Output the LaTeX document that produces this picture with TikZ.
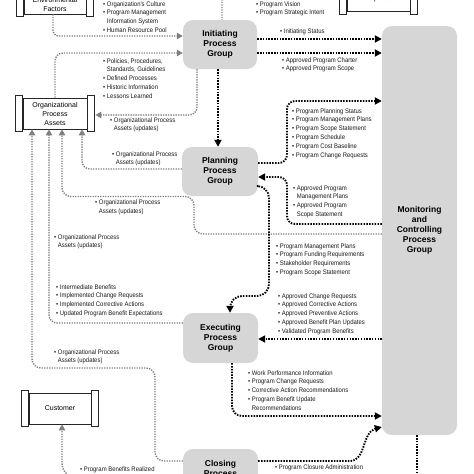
\documentclass[tikz,border=0pt]{standalone}
\usepackage{fontspec}
\setmainfont{Liberation Sans}
\newfontfamily\lblfont{Liberation Sans}[FakeStretch=0.9]
\usetikzlibrary{arrows.meta,calc}
\newcommand\mybul{\textbullet\ }
\newcommand\myind{\hphantom{\textbullet\ }}
\tikzset{
 grp/.style={fill=black!16, rounded corners=10pt, inner sep=0pt, align=center, font=\fontsize{8.5}{10}\selectfont\bfseries},
 scr/.style={draw=black!85, line width=0.8pt, fill=white, inner sep=0pt, align=center, font=\fontsize{7}{9}\selectfont},
 scrbar/.style={draw=black!85, line width=0.8pt, fill=white},
 lbl/.style={anchor=north west, inner sep=0pt, align=left, font=\lblfont\fontsize{6.6}{8.8}\selectfont, text=black!90},
 bline/.style={line width=1.9pt, dash pattern=on 1.5pt off 1.3pt, black},
 gline/.style={line width=1.4pt, dash pattern=on 1.3pt off 1.2pt, black!50},
 barr/.style={-{Triangle[length=7pt,width=7pt]}},
 garr/.style={-{Triangle[length=6pt,width=6.5pt]}},
}
\newcommand\scrollbars[1]{%
 \draw[scrbar] ($(#1.north west)+(-7,-2)$) rectangle ($(#1.south west)+(0,2)$);
 \draw[scrbar] ($(#1.north east)+(0,-2)$) rectangle ($(#1.south east)+(7,2)$);}
\begin{document}
\begin{tikzpicture}[x=1pt,y=-1pt]
\useasboundingbox (0,0) rectangle (474,474);
\clip (0,0) rectangle (474,474);
\fill[white] (0,0) rectangle (474,474);

% process groups
\node[grp, minimum width=74pt, minimum height=49pt] (init) at (220,44.5) {Initiating\\Process\\Group};
\node[grp, minimum width=76pt, minimum height=49pt] (plan) at (220,171.5) {Planning\\Process\\Group};
\node[grp, minimum width=75pt, minimum height=50pt] (exec) at (220.5,338) {Executing\\Process\\Group};
\node[grp, minimum width=75pt, minimum height=51pt] (close) at (220.5,474.5) {Closing\\Process\\Group};
\node[grp, minimum width=75pt, minimum height=409pt] (mon) at (419.5,230.5) {Monitoring\\and\\Controlling\\Process\\Group};

% scroll boxes
\node[scr, minimum width=62pt, minimum height=19pt] (env) at (55,4.5) {Environmental\\Factors};
\scrollbars{env}
\node[scr, minimum width=63pt, minimum height=25pt] (sponsor) at (378.5,-1) {or Sponsor};
\scrollbars{sponsor}
\node[scr, minimum width=64pt, minimum height=31pt] (opa) at (55,113.5) {Organizational\\Process\\Assets};
\scrollbars{opa}
\node[scr, minimum width=62pt, minimum height=31pt] (cust) at (60,408.5) {Customer};
\scrollbars{cust}

% gray connectors
\draw[gline,garr,rounded corners=6pt] (env.south -| 53,0) -- (53,36) -- (init.west |- 0,36);
\draw[gline,garr,rounded corners=8pt] (opa.north) -- (55,53) -- (init.west |- 0,53);
\draw[gline,garr,rounded corners=8pt] (init.south -| 197,0) -- (197,115) -- ($(opa.east |- 0,115)+(8,0)$);
\draw[gline,garr,rounded corners=8pt] (plan.west |- 0,169) -- (82,169) -- (opa.south -| 82,0);
\draw[gline,garr,rounded corners=9pt] (mon.west |- 0,234) -- (194,234) -- (194,196.5) -- (62,196.5) -- (opa.south -| 62,0);
\draw[gline,garr,rounded corners=8pt] (exec.west |- 0,323) -- (49,323) -- (opa.south -| 49,0);
\draw[gline,garr,rounded corners=9pt] (close.west |- 0,461) -- (155,461) -- (155,368) -- (32,368) -- (opa.south -| 32,0);
\draw[gline,rounded corners=8pt] (sponsor.north) |- (222,-30) -- (init.north -| 222,0);
\draw[gline,garr,rounded corners=15pt] (close.west |- 0,478) -- (62,478) -- (cust.south -| 62,0);

% black connectors
\draw[bline,barr] (init.east |- 0,39) -- (mon.west |- 0,39);
\draw[bline,barr] (init.east |- 0,53) -- (mon.west |- 0,53);
\draw[bline,barr] (init.south -| 218,0) -- (plan.north -| 218,0);
\draw[bline,barr,rounded corners=8pt] (plan.east |- 0,163) -- (287,163) -- (287,101) -- (mon.west |- 0,101);
\draw[bline,barr,rounded corners=8pt] (mon.west |- 0,224) -- (287,224) -- (287,177) -- (plan.east |- 0,177);
\draw[bline,barr,rounded corners=12pt] (plan.east |- 0,186) -- (269,186) -- (269,296) -- (230,296) -- (exec.north -| 230,0);
\draw[bline,barr] (mon.west |- 0,339) -- (exec.east |- 0,339);
\draw[bline,barr,rounded corners=10pt] (exec.south -| 232,0) -- (232,416) -- (mon.west |- 0,416);
\draw[bline,barr] (close.east |- 0,461) -- (350,461) .. controls (366,461) and (362,432) .. (mon.west |- 0,427);
\draw[bline] (mon.south -| 417,0) -- (417,480);

% labels
\node[lbl] (l1) at (103,1.2) {\mybul Organization's Culture\\\mybul Program Management\\\myind Information System\\\mybul Human Resource Pool};
\node[lbl] (l2) at (103,58.2) {\mybul Policies, Procedures,\\\myind Standards, Guidelines\\\mybul Defined Processes\\\mybul Historic Information\\\mybul Lessons Learned};
\node[lbl] (l3) at (110,117.2) {\mybul Organizational Process\\\myind Assets (updates)};
\node[lbl] (l4) at (256,1.2) {\mybul Program Vision\\\mybul Program Strategic Intent};
\node[lbl] (l5) at (280,28.2) {\mybul Initiating Status};
\node[lbl] (l6) at (282,57.2) {\mybul Approved Program Charter\\\mybul Approved Program Scope};
\node[lbl] (l7) at (292,108.2) {\mybul Program Planning Status\\\mybul Program Management Plans\\\mybul Program Scope Statement\\\mybul Program Schedule\\\mybul Program Cost Baseline\\\mybul Program Change Requests};
\node[lbl] (l8) at (112,151.2) {\mybul Organizational Process\\\myind Assets (updates)};
\node[lbl] (l9) at (293,185.2) {\mybul Approved Program\\\myind Management Plans\\\mybul Approved Program\\\myind Scope Statement};
\node[lbl] (l10) at (95,199.5) {\mybul Organizational Process\\\myind Assets (updates)};
\node[lbl] (l11) at (54,234.2) {\mybul Organizational Process\\\myind Assets (updates)};
\node[lbl] (l12) at (276,243.2) {\mybul Program Management Plans\\\mybul Program Funding Requirements\\\mybul Stakeholder Requirements\\\mybul Program Scope Statement};
\node[lbl] (l13) at (56,284.2) {\mybul Intermediate Benefits\\\mybul Implemented Change Requests\\\mybul Implemented Corrective Actions\\\mybul Updated Program Benefit Expectations};
\node[lbl] (l14) at (278,293.2) {\mybul Approved Change Requests\\\mybul Approved Corrective Actions\\\mybul Approved Preventive Actions\\\mybul Approved Benefit Plan Updates\\\mybul Validated Program Benefits};
\node[lbl] (l15) at (54,349.2) {\mybul Organizational Process\\\myind Assets (updates)};
\node[lbl] (l16) at (248,370.2) {\mybul Work Performance Information\\\mybul Program Change Requests\\\mybul Corrective Action Recommendations\\\mybul Program Benefit Update\\\myind Recommendations};
\node[lbl] (l17) at (80,466.2) {\mybul Program Benefits Realized};
\node[lbl] (l18) at (275,464.2) {\mybul Program Closure Administration};
\end{tikzpicture}
\end{document}
